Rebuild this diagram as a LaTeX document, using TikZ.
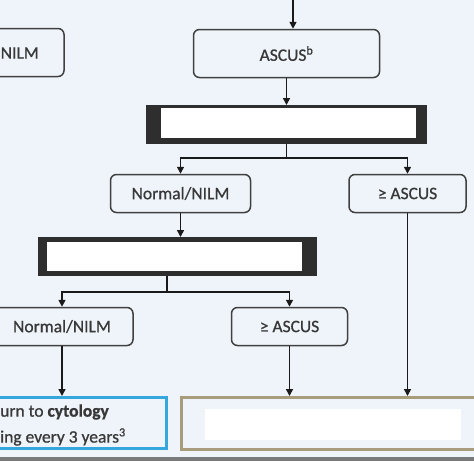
\documentclass[tikz,border=0pt]{standalone}
\usepackage{fontspec}
\setmainfont{Carlito}[RawFeature={embolden=0.8}]
\usetikzlibrary{arrows.meta}
\definecolor{bgc}{HTML}{EFF4FA}
\definecolor{boxc}{HTML}{404040}
\definecolor{txtc}{HTML}{383838}
\definecolor{darkc}{HTML}{2E2E2E}
\definecolor{linec}{HTML}{1A1A1A}
\definecolor{bluec}{HTML}{35A7DC}
\definecolor{tanc}{HTML}{A99C7A}
\definecolor{stripc}{HTML}{7A7A7A}
\tikzset{
  rbox/.style={draw=boxc, line width=1.5pt, rounded corners=6pt, fill=bgc,
    inner sep=0pt, text=txtc, font=\fontsize{17.5}{20}\selectfont},
  blackbox/.style={fill=darkc, inner sep=0pt, outer sep=0pt},
  endbox/.style={line width=3pt, fill=bgc, inner sep=0pt},
  conn/.style={draw=linec, line width=1.6pt},
  arr/.style={conn, -{Triangle[width=7pt,length=7pt]}},
  txt/.style={text=txtc, font=\fontsize{17.5}{20}\selectfont, inner sep=0pt},
}
\begin{document}
\begin{tikzpicture}[x=1pt,y=-1pt]
\useasboundingbox (0,0) rectangle (474,461);
\fill[bgc] (0,0) rectangle (474,461);
\clip (0,0) rectangle (474,461);
% top row
\node[rbox, minimum width=124, minimum height=48] (nilm0) at (2,52.5) {};
\node[txt, anchor=east] (nilm0t) at (39,53) {NILM};
\node[rbox, minimum width=186, minimum height=48] (ascus) at (286.5,53.5) {ASCUS\textsuperscript{b}};
\coordinate (topin) at (293,-4);
% black box 1
\node[blackbox, minimum width=281, minimum height=39] (b1) at (286.5,124.5) {};
\fill[white] (161,108) rectangle (416,138);
% second row
\node[rbox, minimum width=140, minimum height=38] (n2) at (180.5,193.5) {Normal/NILM};
\node[rbox, minimum width=117, minimum height=38] (a2) at (407.5,193.5) {≥ ASCUS};
% black box 2
\node[blackbox, minimum width=279, minimum height=39] (b2) at (177.5,256.5) {};
\fill[white] (47,242) rectangle (302,271);
% third row
\node[rbox, minimum width=142, minimum height=38] (n3) at (62,326.5) {Normal/NILM};
\node[rbox, minimum width=116, minimum height=38] (a3) at (289.5,326.5) {≥ ASCUS};
% end boxes
\node[endbox, draw=bluec, minimum width=186.5, minimum height=51] (blue) at (73.25,423) {};
\node[txt, anchor=west] (bl1) at (0,412) {urn to \textbf{cytology}};
\node[txt, anchor=west] (bl2) at (0,437) {ing every 3 years\textsuperscript{3}};
\node[endbox, draw=tanc, minimum width=318.5, minimum height=52] (tan) at (340.75,423.5) {};
\fill[white] (205,409) rectangle (461,440);
% bottom strip
\fill[stripc] (0,457) rectangle (474,461);
% connectors
\draw[arr] (topin) -- (topin |- ascus.north);
\draw[arr] (ascus.south) -- (ascus.south |- b1.north);
\coordinate (j1) at (286.5,158);
\draw[conn] (b1.south) -- (j1);
\draw[arr] (j1) -| (n2.north);
\draw[arr] (j1) -| (a2.north);
\draw[arr] (n2.south) -- (n2.south |- b2.north);
\coordinate (b2s) at (167,276);
\coordinate (j2) at (167,292);
\draw[conn] (b2s) -- (j2);
\draw[arr] (j2) -| (n3.north);
\draw[arr] (j2) -| (a3.north);
\draw[arr] (n3.south) -- (n3.south |- blue.north);
\draw[arr] (a3.south) -- (a3.south |- tan.north);
\draw[arr] (a2.south) -- (a2.south |- tan.north);
\end{tikzpicture}
\end{document}
